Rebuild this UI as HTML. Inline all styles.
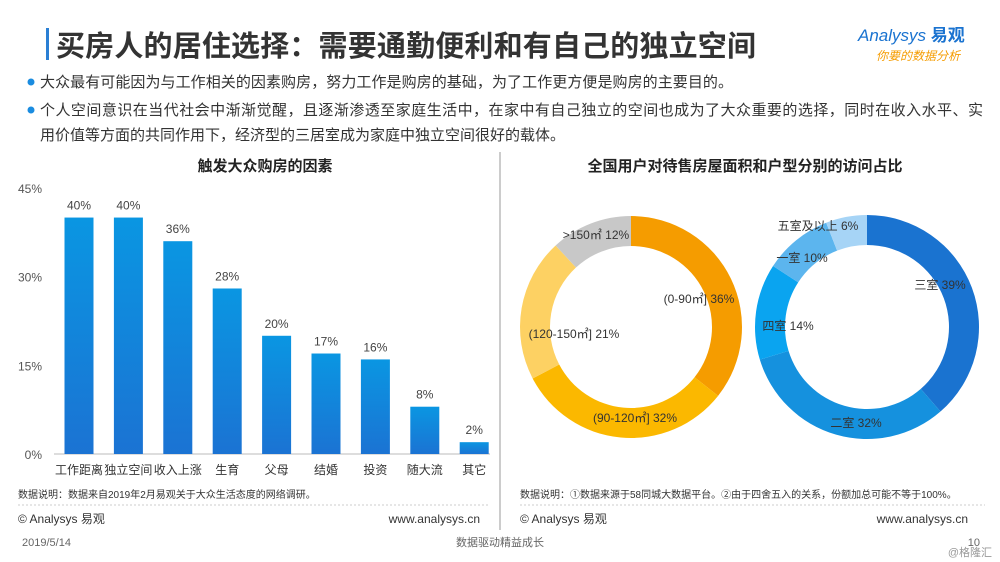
<!DOCTYPE html>
<html><head><meta charset="utf-8"><style>
html,body{margin:0;padding:0;background:#fff;}
svg{display:block;font-family:"Liberation Sans","Noto Sans CJK SC",sans-serif;}
</style></head><body>
<svg id="page" width="1000" height="562" viewBox="0 0 1000 562" xmlns="http://www.w3.org/2000/svg">
<rect x="46" y="28" width="3" height="32" fill="#2a7fd4"/>
<text x="56" y="56" font-size="29" font-weight="bold" fill="#333" textLength="700">买房人的居住选择：需要通勤便利和有自己的独立空间</text>
<text x="858" y="41" font-size="17" fill="#1a73d0" font-style="italic">Analysys <tspan font-weight="bold" font-style="normal">易观</tspan></text>
<text x="876" y="60" font-size="12" fill="#f59c00" font-style="italic">你要的数据分析</text>
<circle cx="31" cy="82" r="3.5" fill="#1a8ce0"/>
<text x="40" y="87" font-size="15" fill="#333" textLength="693">大众最有可能因为与工作相关的因素购房，努力工作是购房的基础，为了工作更方便是购房的主要目的。</text>
<circle cx="31" cy="110" r="3.5" fill="#1a8ce0"/>
<text x="40" y="115" font-size="15" fill="#333" textLength="943">个人空间意识在当代社会中渐渐觉醒，且逐渐渗透至家庭生活中，在家中有自己独立的空间也成为了大众重要的选择，同时在收入水平、实</text>
<text x="40" y="140" font-size="15" fill="#333">用价值等方面的共同作用下，经济型的三居室成为家庭中独立空间很好的载体。</text>
<line x1="500" y1="152" x2="500" y2="530" stroke="#bbb" stroke-width="1.5"/>
<text x="265" y="171" font-size="15" font-weight="bold" fill="#222" text-anchor="middle">触发大众购房的因素</text>
<text x="745" y="171" font-size="15" font-weight="bold" fill="#222" text-anchor="middle">全国用户对待售房屋面积和户型分别的访问占比</text>
<g id="bars"></g>
<g id="donuts"></g>
<text x="18" y="498" font-size="10" fill="#333">数据说明：数据来自2019年2月易观关于大众生活态度的网络调研。</text>
<text x="520" y="498" font-size="10" fill="#333">数据说明：①数据来源于58同城大数据平台。②由于四舍五入的关系，份额加总可能不等于100%。</text>
<line x1="18" y1="505" x2="490" y2="505" stroke="#ccc" stroke-dasharray="2,2"/>
<line x1="520" y1="505" x2="985" y2="505" stroke="#ccc" stroke-dasharray="2,2"/>
<text x="18" y="523" font-size="12" fill="#333">© Analysys 易观</text>
<text x="480" y="523" font-size="12" fill="#333" text-anchor="end">www.analysys.cn</text>
<text x="520" y="523" font-size="12" fill="#333">© Analysys 易观</text>
<text x="968" y="523" font-size="12" fill="#333" text-anchor="end">www.analysys.cn</text>
<text x="22" y="546" font-size="11" fill="#666">2019/5/14</text>
<text x="500" y="546" font-size="11" fill="#666" text-anchor="middle">数据驱动精益成长</text>
<text x="980" y="546" font-size="11" fill="#666" text-anchor="end">10</text>
<text x="992" y="556" font-size="11" fill="#999" text-anchor="end">@格隆汇</text>
</svg>
<script>
const NS="http://www.w3.org/2000/svg";
const barCategories=["工作距离","独立空间","收入上涨","生育","父母","结婚","投资","随大流","其它"];
const barValues=[40,40,36,28,20,17,16,8,2];
const yTicks=[0,15,30,45];
const sizeCategories=["(0-90㎡]","(90-120㎡]","(120-150㎡]",">150㎡"];
const sizeValues=[36,32,21,12];
const roomCategories=["三室","二室","四室","一室","五室及以上"];
const roomValues=[39,32,14,10,6];

function mk(tag,attrs,parent){const e=document.createElementNS(NS,tag);for(const k in attrs)e.setAttribute(k,attrs[k]);parent.appendChild(e);return e;}

const bars=document.getElementById('bars');
const y0=454,yTop=188,yMax=45;
const ys=v=>y0-(v/yMax)*(y0-yTop);
const x0=79,step=49.4,bw=29;
const xs=i=>x0+i*step;
const defs=mk('defs',{},bars);
const gr=mk('linearGradient',{id:'bg',x1:0,y1:0,x2:0,y2:1},defs);
mk('stop',{offset:0,'stop-color':'#0a96e2'},gr);mk('stop',{offset:1,'stop-color':'#1b73d3'},gr);
yTicks.forEach(t=>{const tx=mk('text',{x:42,y:ys(t)+5,'font-size':12,fill:'#555','text-anchor':'end'},bars);tx.textContent=t+'%';

});
const ax=mk('line',{x1:54,y1:y0,x2:490,y2:y0,stroke:'#bbb'},bars);


barValues.forEach((v,i)=>{
 const r=mk('rect',{x:xs(i)-bw/2,y:ys(v),width:bw,height:y0-ys(v),fill:'url(#bg)'},bars);
 
 
 const l=mk('text',{x:xs(i),y:ys(v)-8,'font-size':12,fill:'#444','text-anchor':'middle'},bars);l.textContent=v+'%';
 
 
 const c=mk('text',{x:xs(i),y:474,'font-size':12,fill:'#333','text-anchor':'middle'},bars);c.textContent=barCategories[i];
 
 
});

const don=document.getElementById('donuts');
function donut(cx,cy,R,r,vals,cats,cols,labelPos,name){
 const tot=vals.reduce((a,b)=>a+b,0);let a=0;
 vals.forEach((v,i)=>{
  const a1=a/tot*2*Math.PI,a2=(a+v)/tot*2*Math.PI;a+=v;
  const p=(ang,rad)=>[cx+rad*Math.sin(ang),cy-rad*Math.cos(ang)];
  const [x1,y1]=p(a1,R),[x2,y2]=p(a2,R),[x3,y3]=p(a2,r),[x4,y4]=p(a1,r);
  const lg=(a2-a1)>Math.PI?1:0;
  const pa=mk('path',{d:`M${x1},${y1}A${R},${R} 0 ${lg} 1 ${x2},${y2}L${x3},${y3}A${r},${r} 0 ${lg} 0 ${x4},${y4}Z`,fill:cols[i]},don);
  
  
  const t=mk('text',{x:labelPos[i][0],y:labelPos[i][1],'font-size':12,fill:'#333','text-anchor':'middle'},don);
  t.textContent=cats[i]+'  '+v+'%';
  
  
 });
}
donut(631,327,111,81,sizeValues,sizeCategories,['#f59c00','#fbb800','#fdd163','#c8c8c8'],[[699,303],[635,422],[574,338],[596,239]],'area-donut');
donut(867,327,112,82,roomValues,roomCategories,['#1a73d0','#1591de','#0aa4f0','#5cb5ee','#a6d4f6'],[[940,289],[856,427],[788,330],[802,262],[818,230]],'room-donut');
</script>
</body></html>
